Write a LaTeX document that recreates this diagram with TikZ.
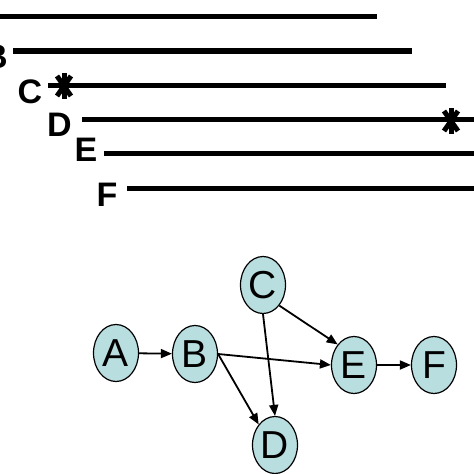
\documentclass[tikz,border=0pt]{standalone}
\usepackage{fontspec}
\setmainfont{Liberation Sans}
\usepackage{xcolor}
\usetikzlibrary{shapes.geometric,arrows.meta,positioning}
\definecolor{nodeblue}{HTML}{B9DEE0}

\begin{document}
\begin{tikzpicture}[
  x=1pt, y=-1pt,
  track/.style={line width=5.5pt},
  tracklabel/.style={inner sep=0pt, font=\fontsize{34}{34}\selectfont\bfseries},
  cross/.style={line width=5pt},
  vert/.style={ellipse, draw, line width=1.2pt, fill=nodeblue, inner sep=0pt,
               minimum width=45pt, minimum height=57pt, font=\fontsize{39}{39}\selectfont},
  arr/.style={-{Triangle[length=11pt,width=9pt]}, line width=1.8pt}
]
\useasboundingbox (0,0) rectangle (474,474);

% ---- Top: tracks ----
\draw[track] (0,16.7) -- (377,16.7);
\node[tracklabel, anchor=east] (lB) at (8,57) {B};
\draw[track] (13,51) -- (412,51);
\node[tracklabel] (lC) at (30,91.5) {C};
\draw[track] (48,85.7) -- (446,85.7);
\node[tracklabel] (lD) at (59.5,125) {D};
\draw[track] (82,119.3) -- (480,119.3);
\node[tracklabel] (lE) at (86,149.5) {E};
\draw[track] (104,153.3) -- (480,153.3);
\node[tracklabel] (lF) at (107,194.5) {F};
\draw[track] (127,188.3) -- (480,188.3);

% ---- crosses ----
\foreach \cx/\cy in {64/86, 451/121}{
  \draw[cross] (\cx,\cy-13) -- (\cx,\cy+13);
  \draw[cross] (\cx-7,\cy-10) -- (\cx+7,\cy+10);
  \draw[cross] (\cx+7,\cy-10) -- (\cx-7,\cy+10);
}

% ---- Bottom: graph ----
\node[vert] (A) at (116,353) {A};
\node[vert] (B) at (195,354) {B};
\node[vert] (C) at (263,285) {C};
\node[vert] (D) at (275,445) {D};
\node[vert] (E) at (354,365) {E};
\node[vert] (F) at (434,365) {F};

\draw[arr] (A) -- (B);
\draw[arr] (B.east) -- (E.west);
\draw[arr] (B.east) -- (D.north west);
\draw[arr] (C.south) -- (D.north);
\draw[arr] (C.south east) -- (E.north west);
\draw[arr] (E) -- (F);

\end{tikzpicture}
\end{document}
